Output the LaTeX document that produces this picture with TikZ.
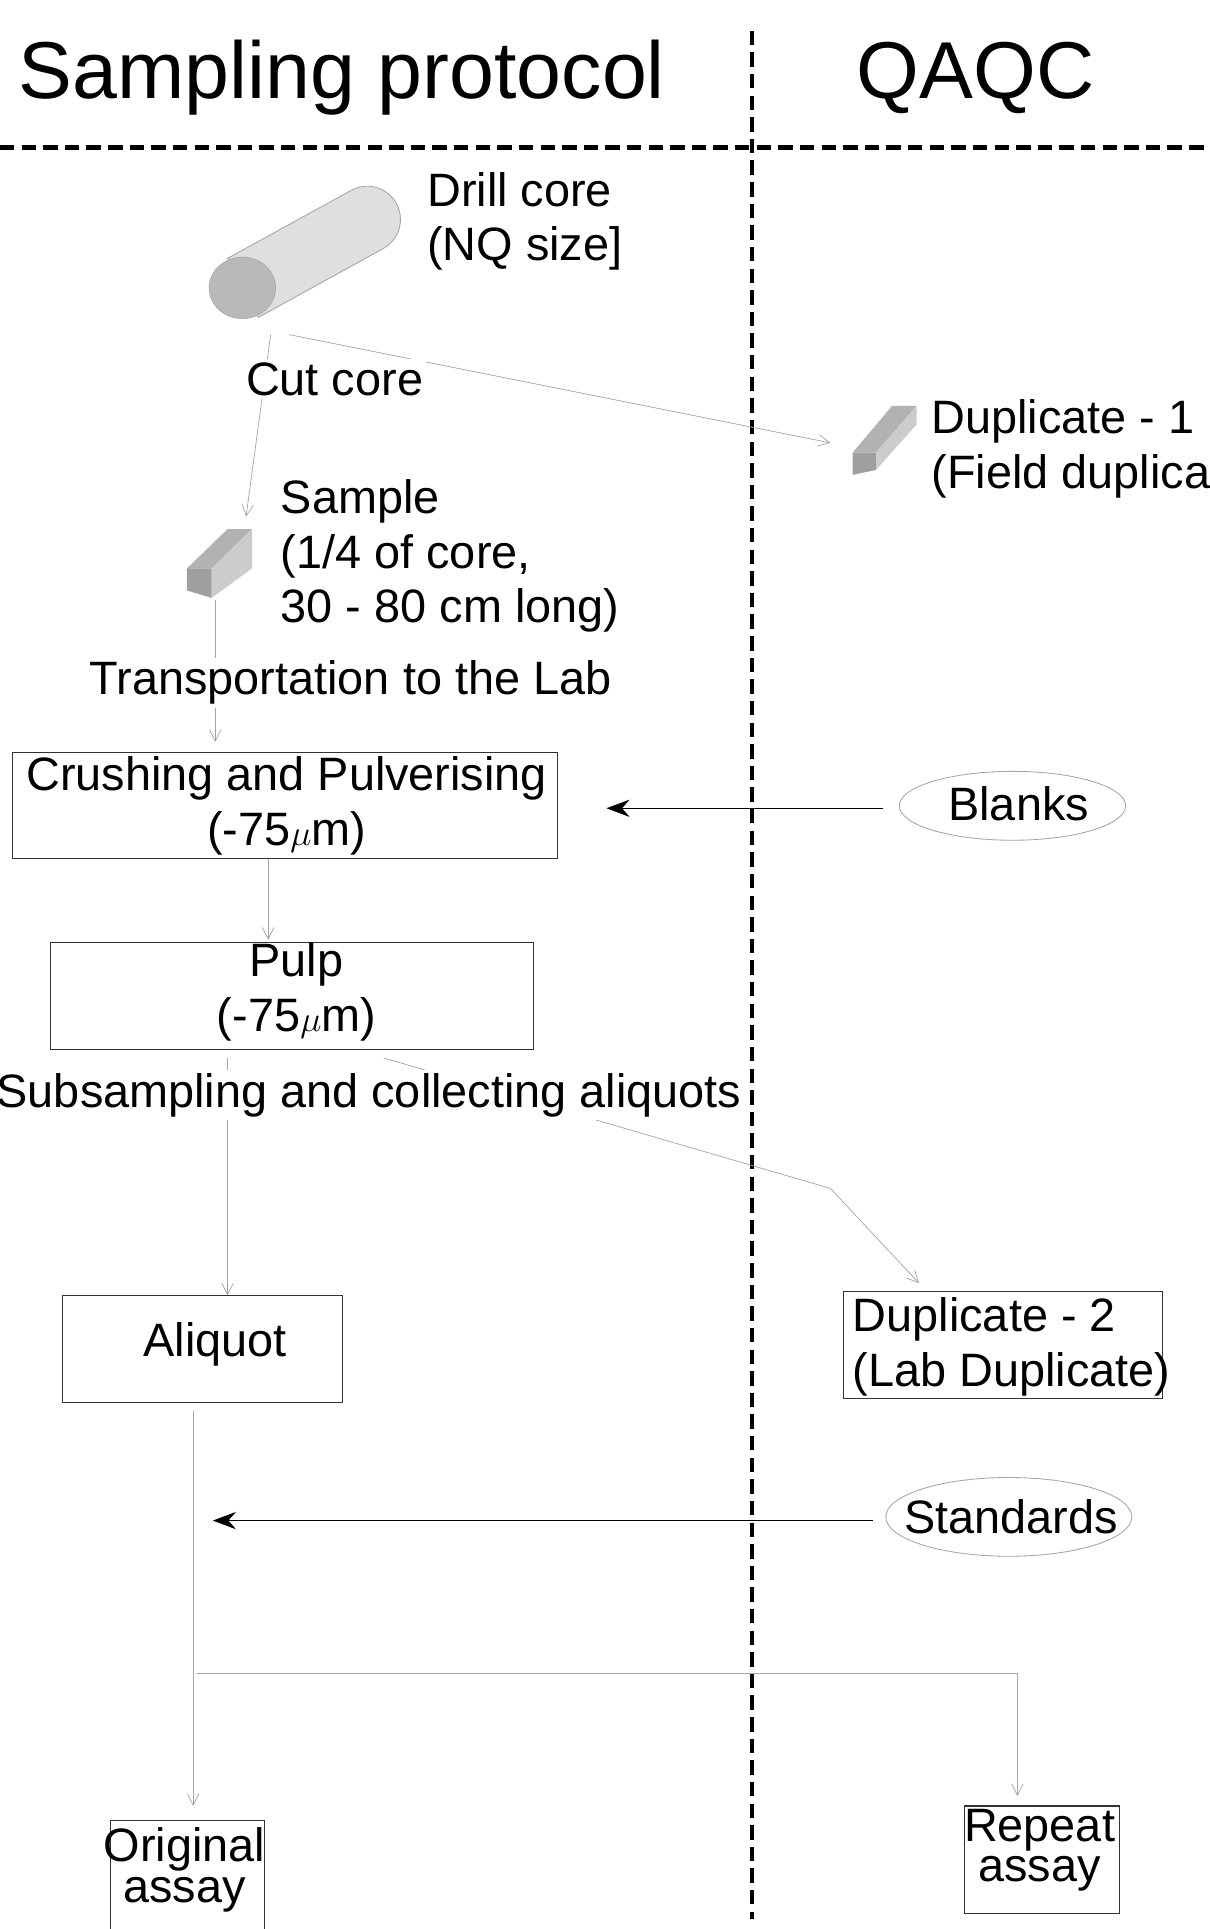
\documentclass[tikz,border=0pt]{standalone}
\usepackage{fontspec}
\setmainfont{Liberation Sans}
\usetikzlibrary{arrows.meta}
\begin{document}
\begin{tikzpicture}[x=0.03cm,y=-0.03cm,
  txt/.style={font=\fontsize{32.5}{38}\selectfont,inner sep=0pt},
  ttl/.style={font=\fontsize{56}{62}\selectfont,inner sep=0pt},
  thin/.style={draw=gray!70,line width=0.5pt,-{Straight Barb[length=8pt,width=8pt]}},
  bx/.style={draw=black!80,line width=0.7pt},
  big/.style={draw=black,line width=0.7pt,-{Stealth[length=16pt,width=12pt]}}]
\useasboundingbox (0,0) rectangle (983,1568);
\clip (0,0) rectangle (983,1568);
\node[ttl] (t1) at (278,63) {Sampling protocol};
\node[ttl] (t2) at (793,63) {QAQC};
\draw[line width=3pt,dash pattern=on 10pt off 5pt] (0,120) -- (983,120);
\draw[line width=3pt,dash pattern=on 10pt off 5pt] (611,25) -- (611,1560);
% cylinder
\fill[gray!25,draw=gray!70,line width=0.6pt] (185,210) -- (285,155) arc[start angle=120,end angle=-60,x radius=27,y radius=-27] -- (210,258) -- cycle;
\draw[fill=gray!55,draw=gray!70] (197,234) ellipse[x radius=27,y radius=25];
\node[txt,align=left,anchor=west] (dc) at (347,180) {Drill core\\(NQ size]};
% duplicate prism
\fill[gray!60] (693,368) -- (725,330) -- (745,330) -- (712,368) -- cycle;
\fill[gray!40] (712,368) -- (745,330) -- (745,345) -- (712,382) -- cycle;
\fill[gray!75] (693,368) -- (712,368) -- (712,382) -- (693,386) -- cycle;
\coordinate (d1) at (675,360);
\node[txt,align=left,anchor=west] (dup1) at (757,365) {Duplicate - 1\\(Field duplicate)};
% sample prism
\fill[gray!60] (152,462) -- (185,430) -- (205,430) -- (172,462) -- cycle;
\fill[gray!40] (172,462) -- (205,430) -- (205,462) -- (172,486) -- cycle;
\fill[gray!75] (152,462) -- (172,462) -- (172,486) -- (152,480) -- cycle;
\node[txt,align=left,anchor=west] (smp) at (228,452) {Sample\\(1/4 of core,\\30 - 80 cm long)};
\coordinate (c0) at (220,272);
\coordinate (c1) at (200,420);
\coordinate (c2) at (235,272);
\draw[thin] (c0) -- (c1);
\draw[thin] (c2) -- (d1);
\node[txt,fill=white,inner sep=2pt] (cut) at (272,308) {Cut core};
% transport
\coordinate (s0) at (175,488);
\coordinate (s1) at (175,603);
\draw[thin] (s0) -- (s1);
\node[txt,fill=white,inner sep=2pt] (tr) at (285,555) {Transportation to the Lab};
\draw[bx] (10,612) rectangle (453,698);
\node[txt,align=center] (crt) at (233,655) {Crushing and Pulverising\\(-75$\mu$m)};
\draw[gray!70,line width=0.6pt] (823,655) ellipse[x radius=92,y radius=28];
\node[txt] (bl) at (828,653) {Blanks};
\coordinate (b0) at (718,657);
\coordinate (b1) at (493,657);
\draw[big] (b0) -- (b1);
\coordinate (p0) at (218,698);
\coordinate (p1) at (218,764);
\draw[thin] (p0) -- (p1);
\draw[bx] (41,766) rectangle (434,853);
\node[txt,align=center] (pulp) at (241,806) {Pulp\\(-75$\mu$m)};
\coordinate (q0) at (185,860);
\coordinate (q1) at (185,1053);
\draw[thin] (q0) -- (q1);
\coordinate (r0) at (312,860);
\coordinate (r1) at (675,966);
\coordinate (r2) at (747,1043);
\draw[thin] (r0) -- (r1) -- (r2);
\node[txt,fill=white,inner sep=2pt] (sub) at (300,890) {Subsampling and collecting aliquots};
\draw[bx] (51,1053) rectangle (278,1140);
\node[txt] (al) at (175,1093) {Aliquot};
\draw[bx] (686,1050) rectangle (945,1137);
\node[txt,align=left,anchor=west] (dup2) at (693,1095) {Duplicate - 2\\(Lab Duplicate)};
\draw[gray!70,line width=0.6pt] (820,1233) ellipse[x radius=100,y radius=32];
\node[txt] (st) at (822,1233) {Standards};
\coordinate (u0) at (710,1236);
\coordinate (u1) at (173,1236);
\draw[big] (u0) -- (u1);
\coordinate (v0) at (157,1147);
\coordinate (v1) at (157,1468);
\draw[thin] (v0) -- (v1);
\coordinate (w0) at (160,1360);
\coordinate (w1) at (827,1360);
\coordinate (w2) at (827,1460);
\draw[thin] (w0) -- (w1) -- (w2);
\draw[bx] (90,1480) rectangle (215,1575);
\node[txt,align=center,font=\fontsize{32.5}{28}\selectfont] (oa) at (150,1520) {Original\\assay};
\draw[bx] (784,1468) rectangle (910,1555);
\node[txt,align=center,font=\fontsize{32.5}{28}\selectfont] (ra) at (845,1504) {Repeat\\assay};
\end{tikzpicture}
\end{document}
